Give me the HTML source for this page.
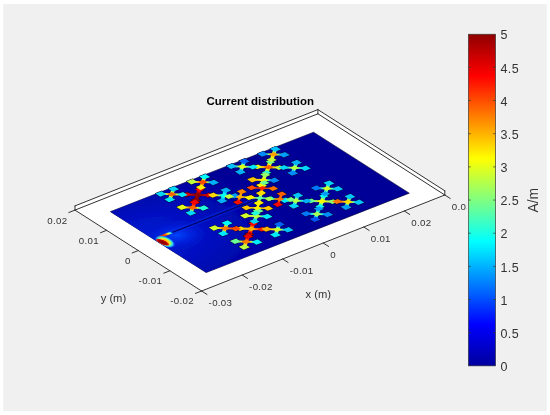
<!DOCTYPE html>
<html lang="en"><head><meta charset="utf-8"><title>Current distribution</title>
<style>html,body{margin:0;padding:0;background:#fff;overflow:hidden}svg{display:block}</style></head>
<body>
<svg width="550" height="415" viewBox="0 0 550 415">
<defs>
<linearGradient id="jet" x1="0" y1="0" x2="0" y2="1"><stop offset="0.0000" stop-color="#8f0000"/><stop offset="0.0312" stop-color="#ab0000"/><stop offset="0.0625" stop-color="#c70000"/><stop offset="0.0938" stop-color="#e30000"/><stop offset="0.1250" stop-color="#ff0000"/><stop offset="0.1562" stop-color="#ff2000"/><stop offset="0.1875" stop-color="#ff4000"/><stop offset="0.2188" stop-color="#ff6000"/><stop offset="0.2500" stop-color="#ff8000"/><stop offset="0.2812" stop-color="#ff9f00"/><stop offset="0.3125" stop-color="#ffbf00"/><stop offset="0.3438" stop-color="#ffdf00"/><stop offset="0.3750" stop-color="#ffff00"/><stop offset="0.4062" stop-color="#dfff20"/><stop offset="0.4375" stop-color="#bfff40"/><stop offset="0.4688" stop-color="#9fff60"/><stop offset="0.5000" stop-color="#80ff80"/><stop offset="0.5312" stop-color="#60ff9f"/><stop offset="0.5625" stop-color="#40ffbf"/><stop offset="0.5938" stop-color="#20ffdf"/><stop offset="0.6250" stop-color="#00ffff"/><stop offset="0.6562" stop-color="#00dfff"/><stop offset="0.6875" stop-color="#00bfff"/><stop offset="0.7188" stop-color="#009fff"/><stop offset="0.7500" stop-color="#0080ff"/><stop offset="0.7812" stop-color="#0060ff"/><stop offset="0.8125" stop-color="#0040ff"/><stop offset="0.8438" stop-color="#0020ff"/><stop offset="0.8750" stop-color="#0000ff"/><stop offset="0.9062" stop-color="#0000e7"/><stop offset="0.9375" stop-color="#0000cf"/><stop offset="0.9688" stop-color="#0000b6"/><stop offset="1.0000" stop-color="#00009e"/></linearGradient>
<radialGradient id="hot" cx="0.5" cy="0.5" r="0.5"><stop offset="0" stop-color="#7f0000"/><stop offset="0.25" stop-color="#e00000"/><stop offset="0.4" stop-color="#ff7a00"/><stop offset="0.5" stop-color="#c8ff30"/><stop offset="0.6" stop-color="#20d0ff"/><stop offset="0.75" stop-color="#0050ff" stop-opacity="0.8"/><stop offset="1" stop-color="#0020d0" stop-opacity="0"/></radialGradient>
<radialGradient id="glow" cx="0.5" cy="0.5" r="0.5"><stop offset="0" stop-color="#0048ff" stop-opacity="0.9"/><stop offset="0.5" stop-color="#0020e0" stop-opacity="0.5"/><stop offset="1" stop-color="#0000b0" stop-opacity="0"/></radialGradient>
<radialGradient id="glow2" cx="0.5" cy="0.5" r="0.5"><stop offset="0" stop-color="#0028e8" stop-opacity="0.8"/><stop offset="0.4" stop-color="#0414d0" stop-opacity="0.7"/><stop offset="0.75" stop-color="#0408b8" stop-opacity="0.45"/><stop offset="1" stop-color="#0400a0" stop-opacity="0"/></radialGradient>
<linearGradient id="feedg" x1="0" y1="0" x2="1" y2="0"><stop offset="0" stop-color="#c00000"/><stop offset="0.5" stop-color="#ff5000"/><stop offset="0.7" stop-color="#f0ff20"/><stop offset="0.85" stop-color="#30e0ff"/><stop offset="1" stop-color="#0060ff" stop-opacity="0"/></linearGradient>
<radialGradient id="halo" cx="0.5" cy="0.5" r="0.5"><stop offset="0" stop-color="#ff9000"/><stop offset="0.45" stop-color="#ffe020"/><stop offset="0.62" stop-color="#60ffa0"/><stop offset="0.78" stop-color="#20c0ff" stop-opacity="0.9"/><stop offset="1" stop-color="#0050ff" stop-opacity="0"/></radialGradient>
<radialGradient id="core" cx="0.5" cy="0.5" r="0.5"><stop offset="0" stop-color="#7f0000"/><stop offset="0.6" stop-color="#a80000"/><stop offset="0.85" stop-color="#e01000"/><stop offset="1" stop-color="#ff4000" stop-opacity="0.6"/></radialGradient>
<filter id="bl" x="-5%" y="-5%" width="110%" height="110%"><feGaussianBlur stdDeviation="0.65"/></filter>
<clipPath id="patch"><polygon points="206.16,272.61 409.31,193.16 313.55,132.20 110.40,211.65"/></clipPath>
</defs>
<rect x="0" y="0" width="550" height="415" fill="#fff"/>
<rect x="3.2" y="4" width="543.6" height="407.2" fill="#f0f0f0"/>
<polygon points="75.00,210.10 75.00,205.90 317.90,109.60 444.80,190.80 444.80,195.00 201.60,291.00" fill="#fff"/>
<g stroke-linecap="round">
<line x1="75.00" y1="210.10" x2="317.90" y2="113.80" stroke="#333" stroke-width="1.00"/>
<line x1="317.90" y1="113.80" x2="444.80" y2="195.00" stroke="#333" stroke-width="1.00"/>
<line x1="444.80" y1="195.00" x2="201.60" y2="291.00" stroke="#333" stroke-width="1.00"/>
<line x1="201.60" y1="291.00" x2="75.00" y2="210.10" stroke="#333" stroke-width="1.00"/>
<line x1="75.00" y1="205.90" x2="317.90" y2="109.60" stroke="#333" stroke-width="1.00"/>
<line x1="317.90" y1="109.60" x2="444.80" y2="190.80" stroke="#333" stroke-width="1.00"/>
<line x1="75.00" y1="210.10" x2="75.00" y2="205.90" stroke="#333" stroke-width="1.00"/>
<line x1="317.90" y1="113.80" x2="317.90" y2="109.60" stroke="#333" stroke-width="1.00"/>
<line x1="444.80" y1="195.00" x2="444.80" y2="190.80" stroke="#333" stroke-width="1.00"/>
<line x1="75.00" y1="210.10" x2="68.85" y2="212.50" stroke="#333" stroke-width="1.00"/>
<line x1="106.65" y1="230.32" x2="100.50" y2="232.73" stroke="#333" stroke-width="1.00"/>
<line x1="138.30" y1="250.55" x2="132.15" y2="252.95" stroke="#333" stroke-width="1.00"/>
<line x1="169.95" y1="270.77" x2="163.80" y2="273.18" stroke="#333" stroke-width="1.00"/>
<line x1="201.60" y1="291.00" x2="195.45" y2="293.40" stroke="#333" stroke-width="1.00"/>
<line x1="201.60" y1="291.00" x2="207.00" y2="294.44" stroke="#333" stroke-width="1.00"/>
<line x1="242.13" y1="275.00" x2="247.53" y2="278.44" stroke="#333" stroke-width="1.00"/>
<line x1="282.67" y1="259.00" x2="288.07" y2="262.44" stroke="#333" stroke-width="1.00"/>
<line x1="323.20" y1="243.00" x2="328.60" y2="246.44" stroke="#333" stroke-width="1.00"/>
<line x1="363.73" y1="227.00" x2="369.13" y2="230.44" stroke="#333" stroke-width="1.00"/>
<line x1="404.27" y1="211.00" x2="409.67" y2="214.44" stroke="#333" stroke-width="1.00"/>
<line x1="444.80" y1="195.00" x2="450.20" y2="198.44" stroke="#333" stroke-width="1.00"/>
</g>
<g font-family="'Liberation Sans', Arial, sans-serif" font-size="9.7" letter-spacing="0.32" fill="#333">
<text x="67.4" y="223.5" text-anchor="end">0.02</text>
<text x="99.0" y="243.7" text-anchor="end">0.01</text>
<text x="130.7" y="264.0" text-anchor="end">0</text>
<text x="162.3" y="284.2" text-anchor="end">-0.01</text>
<text x="194.0" y="304.4" text-anchor="end">-0.02</text>
<text x="208.6" y="306.1">-0.03</text>
<text x="249.1" y="290.1">-0.02</text>
<text x="289.7" y="274.1">-0.01</text>
<text x="330.2" y="258.1">0</text>
<text x="370.7" y="242.1">0.01</text>
<text x="411.3" y="226.1">0.02</text>
<text x="451.8" y="210.1">0.03</text>
</g>
<g font-family="'Liberation Sans', Arial, sans-serif" font-size="11.2" fill="#333">
<text x="100.7" y="302.1">y (m)</text>
<text x="305.6" y="297.5">x (m)</text>
</g>
<g filter="url(#bl)">
<polygon points="206.16,272.61 409.31,193.16 313.55,132.20 110.40,211.65" fill="#040096" stroke="#000030" stroke-width="0.6"/>
<g clip-path="url(#patch)">
<g transform="matrix(4.0630 -1.5890 -3.1920 -2.0320 259.850 198.050)">
<ellipse cx="-26" cy="0" rx="30" ry="26" fill="url(#glow2)"/>
<ellipse cx="-21.5" cy="-1.5" rx="8" ry="7" fill="url(#glow)"/>
<rect x="-25" y="-0.7" width="25" height="1.5" fill="#0030e8" opacity="0.45"/>
<rect x="-25" y="-0.2" width="25" height="0.36" fill="#000064"/>
<rect x="-25" y="-0.3" width="3.6" height="0.75" fill="url(#feedg)"/>
</g>
<ellipse cx="165" cy="241.6" rx="11" ry="5.4" transform="rotate(22 165 241.6)" fill="url(#halo)"/>
<ellipse cx="162.6" cy="242.3" rx="7.2" ry="2.4" transform="rotate(22 162.6 242.3)" fill="url(#core)"/>
</g>
<g transform="matrix(4.0630 -1.5890 -3.1920 -2.0320 259.850 198.050)" stroke="#000030" stroke-width="0.2" stroke-linejoin="round" fill="#000030">
<rect x="-7.79" y="9.12" width="1.30" height="1.30"/>
<rect x="-7.19" y="12.31" width="1.52" height="1.52"/>
<rect x="-4.07" y="12.31" width="1.52" height="1.52"/>
<rect x="-4.07" y="9.53" width="1.52" height="1.52"/>
<rect x="-7.13" y="9.58" width="1.41" height="1.41"/>
<rect x="-5.52" y="11.03" width="1.29" height="1.29"/>
<rect x="-10.91" y="9.12" width="1.30" height="1.30"/>
<rect x="-14.85" y="12.31" width="1.52" height="1.52"/>
<rect x="-11.73" y="12.31" width="1.52" height="1.52"/>
<rect x="-14.85" y="9.53" width="1.52" height="1.52"/>
<rect x="-11.67" y="9.58" width="1.41" height="1.41"/>
<rect x="-13.18" y="11.03" width="1.29" height="1.29"/>
<rect x="-10.91" y="6.34" width="1.30" height="1.30"/>
<rect x="-14.85" y="5.71" width="1.52" height="1.52"/>
<rect x="-11.73" y="2.93" width="1.52" height="1.52"/>
<rect x="-14.85" y="2.93" width="1.52" height="1.52"/>
<rect x="-11.67" y="5.77" width="1.41" height="1.41"/>
<rect x="-13.18" y="4.43" width="1.29" height="1.29"/>
<rect x="-7.79" y="6.34" width="1.30" height="1.30"/>
<rect x="-4.07" y="5.71" width="1.52" height="1.52"/>
<rect x="-7.19" y="2.93" width="1.52" height="1.52"/>
<rect x="-4.07" y="2.93" width="1.52" height="1.52"/>
<rect x="-7.13" y="5.77" width="1.41" height="1.41"/>
<rect x="-5.52" y="4.43" width="1.29" height="1.29"/>
<rect x="-9.35" y="7.73" width="1.30" height="1.30"/>
<rect x="9.61" y="9.12" width="1.30" height="1.30"/>
<rect x="10.21" y="12.31" width="1.52" height="1.52"/>
<rect x="13.33" y="12.31" width="1.52" height="1.52"/>
<rect x="13.33" y="9.53" width="1.52" height="1.52"/>
<rect x="10.26" y="9.58" width="1.41" height="1.41"/>
<rect x="11.88" y="11.03" width="1.29" height="1.29"/>
<rect x="6.49" y="9.12" width="1.30" height="1.30"/>
<rect x="5.67" y="12.31" width="1.52" height="1.52"/>
<rect x="2.55" y="12.31" width="1.52" height="1.52"/>
<rect x="2.55" y="9.53" width="1.52" height="1.52"/>
<rect x="5.72" y="9.58" width="1.41" height="1.41"/>
<rect x="4.22" y="11.03" width="1.29" height="1.29"/>
<rect x="9.61" y="6.34" width="1.30" height="1.30"/>
<rect x="13.33" y="5.71" width="1.52" height="1.52"/>
<rect x="10.21" y="2.93" width="1.52" height="1.52"/>
<rect x="10.26" y="5.77" width="1.41" height="1.41"/>
<rect x="13.33" y="2.93" width="1.52" height="1.52"/>
<rect x="11.88" y="4.43" width="1.29" height="1.29"/>
<rect x="6.49" y="6.34" width="1.30" height="1.30"/>
<rect x="2.55" y="5.71" width="1.52" height="1.52"/>
<rect x="5.67" y="2.93" width="1.52" height="1.52"/>
<rect x="5.72" y="5.77" width="1.41" height="1.41"/>
<rect x="2.55" y="2.93" width="1.52" height="1.52"/>
<rect x="4.22" y="4.43" width="1.29" height="1.29"/>
<rect x="8.05" y="7.73" width="1.30" height="1.30"/>
<rect x="9.61" y="-7.64" width="1.30" height="1.30"/>
<rect x="10.21" y="-4.45" width="1.52" height="1.52"/>
<rect x="13.33" y="-4.45" width="1.52" height="1.52"/>
<rect x="13.33" y="-7.23" width="1.52" height="1.52"/>
<rect x="10.26" y="-7.18" width="1.41" height="1.41"/>
<rect x="11.88" y="-5.73" width="1.29" height="1.29"/>
<rect x="6.49" y="-7.64" width="1.30" height="1.30"/>
<rect x="5.67" y="-4.45" width="1.52" height="1.52"/>
<rect x="2.55" y="-4.45" width="1.52" height="1.52"/>
<rect x="2.55" y="-7.23" width="1.52" height="1.52"/>
<rect x="5.72" y="-7.18" width="1.41" height="1.41"/>
<rect x="4.22" y="-5.73" width="1.29" height="1.29"/>
<rect x="6.49" y="-10.42" width="1.30" height="1.30"/>
<rect x="2.55" y="-11.05" width="1.52" height="1.52"/>
<rect x="5.67" y="-13.83" width="1.52" height="1.52"/>
<rect x="2.55" y="-13.83" width="1.52" height="1.52"/>
<rect x="5.72" y="-10.99" width="1.41" height="1.41"/>
<rect x="4.22" y="-12.33" width="1.29" height="1.29"/>
<rect x="9.61" y="-10.42" width="1.30" height="1.30"/>
<rect x="13.33" y="-11.05" width="1.52" height="1.52"/>
<rect x="10.21" y="-13.83" width="1.52" height="1.52"/>
<rect x="13.33" y="-13.83" width="1.52" height="1.52"/>
<rect x="10.26" y="-10.99" width="1.41" height="1.41"/>
<rect x="11.88" y="-12.33" width="1.29" height="1.29"/>
<rect x="8.05" y="-9.03" width="1.30" height="1.30"/>
<rect x="-7.79" y="-7.64" width="1.30" height="1.30"/>
<rect x="-7.19" y="-4.45" width="1.52" height="1.52"/>
<rect x="-4.07" y="-7.23" width="1.52" height="1.52"/>
<rect x="-7.13" y="-7.18" width="1.41" height="1.41"/>
<rect x="-4.07" y="-4.45" width="1.52" height="1.52"/>
<rect x="-5.52" y="-5.73" width="1.29" height="1.29"/>
<rect x="-10.91" y="-7.64" width="1.30" height="1.30"/>
<rect x="-11.73" y="-4.45" width="1.52" height="1.52"/>
<rect x="-14.85" y="-4.45" width="1.52" height="1.52"/>
<rect x="-14.85" y="-7.23" width="1.52" height="1.52"/>
<rect x="-11.67" y="-7.18" width="1.41" height="1.41"/>
<rect x="-13.18" y="-5.73" width="1.29" height="1.29"/>
<rect x="-10.91" y="-10.42" width="1.30" height="1.30"/>
<rect x="-14.85" y="-11.05" width="1.52" height="1.52"/>
<rect x="-11.73" y="-13.83" width="1.52" height="1.52"/>
<rect x="-14.85" y="-13.83" width="1.52" height="1.52"/>
<rect x="-11.67" y="-10.99" width="1.41" height="1.41"/>
<rect x="-13.18" y="-12.33" width="1.29" height="1.29"/>
<rect x="-7.79" y="-10.42" width="1.30" height="1.30"/>
<rect x="-4.07" y="-11.05" width="1.52" height="1.52"/>
<rect x="-7.19" y="-13.83" width="1.52" height="1.52"/>
<rect x="-4.07" y="-13.83" width="1.52" height="1.52"/>
<rect x="-7.13" y="-10.99" width="1.41" height="1.41"/>
<rect x="-5.52" y="-12.33" width="1.29" height="1.29"/>
<rect x="-9.35" y="-9.03" width="1.30" height="1.30"/>
<rect x="-2.16" y="0.79" width="1.20" height="1.20"/>
<rect x="-1.90" y="3.43" width="1.38" height="1.38"/>
<rect x="-5.02" y="0.65" width="1.38" height="1.38"/>
<rect x="-5.02" y="3.43" width="1.38" height="1.38"/>
<rect x="-1.85" y="0.70" width="1.29" height="1.29"/>
<rect x="-3.36" y="2.14" width="1.17" height="1.17"/>
<rect x="0.96" y="0.79" width="1.20" height="1.20"/>
<rect x="0.52" y="3.43" width="1.38" height="1.38"/>
<rect x="3.64" y="0.65" width="1.38" height="1.38"/>
<rect x="3.64" y="3.43" width="1.38" height="1.38"/>
<rect x="0.56" y="0.70" width="1.29" height="1.29"/>
<rect x="2.18" y="2.14" width="1.17" height="1.17"/>
<rect x="0.96" y="-1.99" width="1.20" height="1.20"/>
<rect x="3.64" y="-2.03" width="1.38" height="1.38"/>
<rect x="0.52" y="-4.81" width="1.38" height="1.38"/>
<rect x="3.64" y="-4.81" width="1.38" height="1.38"/>
<rect x="0.56" y="-1.99" width="1.29" height="1.29"/>
<rect x="2.18" y="-3.32" width="1.17" height="1.17"/>
<rect x="-2.16" y="-1.99" width="1.20" height="1.20"/>
<rect x="-5.02" y="-2.03" width="1.38" height="1.38"/>
<rect x="-1.90" y="-4.81" width="1.38" height="1.38"/>
<rect x="-5.02" y="-4.81" width="1.38" height="1.38"/>
<rect x="-1.85" y="-1.99" width="1.29" height="1.29"/>
<rect x="-3.36" y="-3.32" width="1.17" height="1.17"/>
<rect x="-0.60" y="-0.60" width="1.20" height="1.20"/>
</g>
<g transform="matrix(4.0630 -1.5890 -3.1920 -2.0320 259.850 198.050)">
<line x1="-8.70" y1="8.38" x2="-7.14" y2="9.77" stroke="#c50000" stroke-width="0.80"/>
<line x1="-7.14" y1="9.77" x2="-6.43" y2="10.29" stroke="#ff7500" stroke-width="0.88"/>
<line x1="-4.87" y1="11.68" x2="-6.43" y2="13.07" stroke="#ffc700" stroke-width="0.72"/>
<line x1="-4.87" y1="11.68" x2="-3.31" y2="13.07" stroke="#e5ff1a" stroke-width="0.72"/>
<line x1="-4.87" y1="11.68" x2="-3.31" y2="10.29" stroke="#bdff42" stroke-width="0.72"/>
<line x1="-4.87" y1="11.68" x2="-6.43" y2="10.29" stroke="#ff9e00" stroke-width="0.72"/>
<line x1="-8.70" y1="8.38" x2="-10.26" y2="9.77" stroke="#b30000" stroke-width="0.80"/>
<line x1="-10.26" y1="9.77" x2="-10.97" y2="10.29" stroke="#ffe500" stroke-width="0.88"/>
<line x1="-12.53" y1="11.68" x2="-14.09" y2="13.07" stroke="#c7ff38" stroke-width="0.72"/>
<line x1="-12.53" y1="11.68" x2="-10.97" y2="13.07" stroke="#c7ff38" stroke-width="0.72"/>
<line x1="-12.53" y1="11.68" x2="-14.09" y2="10.29" stroke="#d1ff2e" stroke-width="0.72"/>
<line x1="-12.53" y1="11.68" x2="-10.97" y2="10.29" stroke="#d1ff2e" stroke-width="0.72"/>
<line x1="-8.70" y1="8.38" x2="-10.26" y2="6.99" stroke="#8f0000" stroke-width="0.80"/>
<line x1="-10.26" y1="6.99" x2="-10.97" y2="6.47" stroke="#c50000" stroke-width="0.88"/>
<line x1="-12.53" y1="5.08" x2="-14.09" y2="6.47" stroke="#ffbd00" stroke-width="0.72"/>
<line x1="-12.53" y1="5.08" x2="-10.97" y2="3.69" stroke="#f0ff0f" stroke-width="0.72"/>
<line x1="-12.53" y1="5.08" x2="-14.09" y2="3.69" stroke="#c7ff38" stroke-width="0.72"/>
<line x1="-12.53" y1="5.08" x2="-10.97" y2="6.47" stroke="#ff2e00" stroke-width="0.72"/>
<line x1="-8.70" y1="8.38" x2="-7.14" y2="6.99" stroke="#b30000" stroke-width="0.80"/>
<line x1="-7.14" y1="6.99" x2="-6.43" y2="6.47" stroke="#ff5700" stroke-width="0.88"/>
<line x1="-4.87" y1="5.08" x2="-3.31" y2="6.47" stroke="#00f0ff" stroke-width="0.72"/>
<line x1="-4.87" y1="5.08" x2="-6.43" y2="3.69" stroke="#00f0ff" stroke-width="0.72"/>
<line x1="-4.87" y1="5.08" x2="-3.31" y2="3.69" stroke="#00e5ff" stroke-width="0.72"/>
<line x1="-4.87" y1="5.08" x2="-6.43" y2="6.47" stroke="#9eff61" stroke-width="0.72"/>
<line x1="8.70" y1="8.38" x2="10.26" y2="9.77" stroke="#fffa00" stroke-width="0.80"/>
<line x1="10.26" y1="9.77" x2="10.97" y2="10.29" stroke="#94ff6b" stroke-width="0.88"/>
<line x1="12.53" y1="11.68" x2="10.97" y2="13.07" stroke="#80ff80" stroke-width="0.72"/>
<line x1="12.53" y1="11.68" x2="14.09" y2="13.07" stroke="#9eff61" stroke-width="0.72"/>
<line x1="12.53" y1="11.68" x2="14.09" y2="10.29" stroke="#8aff75" stroke-width="0.72"/>
<line x1="12.53" y1="11.68" x2="10.97" y2="10.29" stroke="#fff000" stroke-width="0.72"/>
<line x1="8.70" y1="8.38" x2="7.14" y2="9.77" stroke="#ffbd00" stroke-width="0.80"/>
<line x1="7.14" y1="9.77" x2="6.43" y2="10.29" stroke="#75ff8a" stroke-width="0.88"/>
<line x1="4.87" y1="11.68" x2="6.43" y2="13.07" stroke="#2effd1" stroke-width="0.72"/>
<line x1="4.87" y1="11.68" x2="3.31" y2="13.07" stroke="#61ff9e" stroke-width="0.72"/>
<line x1="4.87" y1="11.68" x2="3.31" y2="10.29" stroke="#57ffa8" stroke-width="0.72"/>
<line x1="4.87" y1="11.68" x2="6.43" y2="10.29" stroke="#75ff8a" stroke-width="0.72"/>
<line x1="8.70" y1="8.38" x2="10.26" y2="6.99" stroke="#ffd100" stroke-width="0.80"/>
<line x1="10.26" y1="6.99" x2="10.97" y2="6.47" stroke="#57ffa8" stroke-width="0.88"/>
<line x1="12.53" y1="5.08" x2="14.09" y2="6.47" stroke="#42ffbd" stroke-width="0.72"/>
<line x1="12.53" y1="5.08" x2="10.97" y2="3.69" stroke="#2effd1" stroke-width="0.72"/>
<line x1="12.53" y1="5.08" x2="10.97" y2="6.47" stroke="#57ffa8" stroke-width="0.72"/>
<line x1="12.53" y1="5.08" x2="14.09" y2="3.69" stroke="#57ffa8" stroke-width="0.72"/>
<line x1="8.70" y1="8.38" x2="7.14" y2="6.99" stroke="#f0ff0f" stroke-width="0.80"/>
<line x1="7.14" y1="6.99" x2="6.43" y2="6.47" stroke="#6bff94" stroke-width="0.88"/>
<line x1="4.87" y1="5.08" x2="3.31" y2="6.47" stroke="#ffdb00" stroke-width="0.72"/>
<line x1="4.87" y1="5.08" x2="6.43" y2="3.69" stroke="#57ffa8" stroke-width="0.72"/>
<line x1="4.87" y1="5.08" x2="6.43" y2="6.47" stroke="#d1ff2e" stroke-width="0.72"/>
<line x1="4.87" y1="5.08" x2="3.31" y2="3.69" stroke="#fff000" stroke-width="0.72"/>
<line x1="8.70" y1="-8.38" x2="10.26" y2="-6.99" stroke="#8aff75" stroke-width="0.80"/>
<line x1="10.26" y1="-6.99" x2="10.97" y2="-6.47" stroke="#00e5ff" stroke-width="0.88"/>
<line x1="12.53" y1="-5.08" x2="10.97" y2="-3.69" stroke="#2effd1" stroke-width="0.72"/>
<line x1="12.53" y1="-5.08" x2="14.09" y2="-3.69" stroke="#61ff9e" stroke-width="0.72"/>
<line x1="12.53" y1="-5.08" x2="14.09" y2="-6.47" stroke="#57ffa8" stroke-width="0.72"/>
<line x1="12.53" y1="-5.08" x2="10.97" y2="-6.47" stroke="#42ffbd" stroke-width="0.72"/>
<line x1="8.70" y1="-8.38" x2="7.14" y2="-6.99" stroke="#b3ff4c" stroke-width="0.80"/>
<line x1="7.14" y1="-6.99" x2="6.43" y2="-6.47" stroke="#1affe5" stroke-width="0.88"/>
<line x1="4.87" y1="-5.08" x2="6.43" y2="-3.69" stroke="#4dffb3" stroke-width="0.72"/>
<line x1="4.87" y1="-5.08" x2="3.31" y2="-3.69" stroke="#61ff9e" stroke-width="0.72"/>
<line x1="4.87" y1="-5.08" x2="3.31" y2="-6.47" stroke="#57ffa8" stroke-width="0.72"/>
<line x1="4.87" y1="-5.08" x2="6.43" y2="-6.47" stroke="#42ffbd" stroke-width="0.72"/>
<line x1="8.70" y1="-8.38" x2="7.14" y2="-9.77" stroke="#8aff75" stroke-width="0.80"/>
<line x1="7.14" y1="-9.77" x2="6.43" y2="-10.29" stroke="#00e5ff" stroke-width="0.88"/>
<line x1="4.87" y1="-11.68" x2="3.31" y2="-10.29" stroke="#1affe5" stroke-width="0.72"/>
<line x1="4.87" y1="-11.68" x2="6.43" y2="-13.07" stroke="#24ffdb" stroke-width="0.72"/>
<line x1="4.87" y1="-11.68" x2="3.31" y2="-13.07" stroke="#05fffa" stroke-width="0.72"/>
<line x1="4.87" y1="-11.68" x2="6.43" y2="-10.29" stroke="#2effd1" stroke-width="0.72"/>
<line x1="8.70" y1="-8.38" x2="10.26" y2="-9.77" stroke="#c7ff38" stroke-width="0.80"/>
<line x1="10.26" y1="-9.77" x2="10.97" y2="-10.29" stroke="#fff000" stroke-width="0.88"/>
<line x1="12.53" y1="-11.68" x2="14.09" y2="-10.29" stroke="#80ff80" stroke-width="0.72"/>
<line x1="12.53" y1="-11.68" x2="10.97" y2="-13.07" stroke="#6bff94" stroke-width="0.72"/>
<line x1="12.53" y1="-11.68" x2="14.09" y2="-13.07" stroke="#80ff80" stroke-width="0.72"/>
<line x1="12.53" y1="-11.68" x2="10.97" y2="-10.29" stroke="#ffa800" stroke-width="0.72"/>
<line x1="-8.70" y1="-8.38" x2="-7.14" y2="-6.99" stroke="#ff5700" stroke-width="0.80"/>
<line x1="-7.14" y1="-6.99" x2="-6.43" y2="-6.47" stroke="#faff05" stroke-width="0.88"/>
<line x1="-4.87" y1="-5.08" x2="-6.43" y2="-3.69" stroke="#c7ff38" stroke-width="0.72"/>
<line x1="-4.87" y1="-5.08" x2="-3.31" y2="-6.47" stroke="#61ff9e" stroke-width="0.72"/>
<line x1="-4.87" y1="-5.08" x2="-6.43" y2="-6.47" stroke="#57ffa8" stroke-width="0.72"/>
<line x1="-4.87" y1="-5.08" x2="-3.31" y2="-3.69" stroke="#94ff6b" stroke-width="0.72"/>
<line x1="-8.70" y1="-8.38" x2="-10.26" y2="-6.99" stroke="#ffc700" stroke-width="0.80"/>
<line x1="-10.26" y1="-6.99" x2="-10.97" y2="-6.47" stroke="#ff9400" stroke-width="0.88"/>
<line x1="-12.53" y1="-5.08" x2="-10.97" y2="-3.69" stroke="#d1ff2e" stroke-width="0.72"/>
<line x1="-12.53" y1="-5.08" x2="-14.09" y2="-3.69" stroke="#ffd100" stroke-width="0.72"/>
<line x1="-12.53" y1="-5.08" x2="-14.09" y2="-6.47" stroke="#c7ff38" stroke-width="0.72"/>
<line x1="-12.53" y1="-5.08" x2="-10.97" y2="-6.47" stroke="#ff6100" stroke-width="0.72"/>
<line x1="-8.70" y1="-8.38" x2="-10.26" y2="-9.77" stroke="#ff2e00" stroke-width="0.80"/>
<line x1="-10.26" y1="-9.77" x2="-10.97" y2="-10.29" stroke="#ce0000" stroke-width="0.88"/>
<line x1="-12.53" y1="-11.68" x2="-14.09" y2="-10.29" stroke="#faff05" stroke-width="0.72"/>
<line x1="-12.53" y1="-11.68" x2="-10.97" y2="-13.07" stroke="#c7ff38" stroke-width="0.72"/>
<line x1="-12.53" y1="-11.68" x2="-14.09" y2="-13.07" stroke="#ffdb00" stroke-width="0.72"/>
<line x1="-12.53" y1="-11.68" x2="-10.97" y2="-10.29" stroke="#ff2e00" stroke-width="0.72"/>
<line x1="-8.70" y1="-8.38" x2="-7.14" y2="-9.77" stroke="#ff6b00" stroke-width="0.80"/>
<line x1="-7.14" y1="-9.77" x2="-6.43" y2="-10.29" stroke="#ff6b00" stroke-width="0.88"/>
<line x1="-4.87" y1="-11.68" x2="-3.31" y2="-10.29" stroke="#24ffdb" stroke-width="0.72"/>
<line x1="-4.87" y1="-11.68" x2="-6.43" y2="-13.07" stroke="#6bff94" stroke-width="0.72"/>
<line x1="-4.87" y1="-11.68" x2="-3.31" y2="-13.07" stroke="#57ffa8" stroke-width="0.72"/>
<line x1="-4.87" y1="-11.68" x2="-6.43" y2="-10.29" stroke="#fff000" stroke-width="0.72"/>
<line x1="0.00" y1="0.00" x2="-1.56" y2="1.39" stroke="#a8ff57" stroke-width="0.56"/>
<line x1="-1.56" y1="1.39" x2="-1.21" y2="1.34" stroke="#fffa00" stroke-width="0.62"/>
<line x1="-2.77" y1="2.73" x2="-1.21" y2="4.12" stroke="#ff9e00" stroke-width="0.50"/>
<line x1="-2.77" y1="2.73" x2="-4.33" y2="1.34" stroke="#ff6100" stroke-width="0.50"/>
<line x1="-2.77" y1="2.73" x2="-4.33" y2="4.12" stroke="#fffa00" stroke-width="0.50"/>
<line x1="-2.77" y1="2.73" x2="-1.21" y2="1.34" stroke="#ffd100" stroke-width="0.50"/>
<line x1="0.00" y1="0.00" x2="1.56" y2="1.39" stroke="#b3ff4c" stroke-width="0.56"/>
<line x1="1.56" y1="1.39" x2="1.21" y2="1.34" stroke="#ffe500" stroke-width="0.62"/>
<line x1="2.77" y1="2.73" x2="1.21" y2="4.12" stroke="#ff3800" stroke-width="0.50"/>
<line x1="2.77" y1="2.73" x2="4.33" y2="1.34" stroke="#ff4c00" stroke-width="0.50"/>
<line x1="2.77" y1="2.73" x2="4.33" y2="4.12" stroke="#ffdb00" stroke-width="0.50"/>
<line x1="2.77" y1="2.73" x2="1.21" y2="1.34" stroke="#ff8000" stroke-width="0.50"/>
<line x1="0.00" y1="0.00" x2="1.56" y2="-1.39" stroke="#4dffb3" stroke-width="0.56"/>
<line x1="1.56" y1="-1.39" x2="1.21" y2="-1.34" stroke="#75ff8a" stroke-width="0.62"/>
<line x1="2.77" y1="-2.73" x2="4.33" y2="-1.34" stroke="#ff6b00" stroke-width="0.50"/>
<line x1="2.77" y1="-2.73" x2="1.21" y2="-4.12" stroke="#ff3800" stroke-width="0.50"/>
<line x1="2.77" y1="-2.73" x2="4.33" y2="-4.12" stroke="#fffa00" stroke-width="0.50"/>
<line x1="2.77" y1="-2.73" x2="1.21" y2="-1.34" stroke="#ffe500" stroke-width="0.50"/>
<line x1="0.00" y1="0.00" x2="-1.56" y2="-1.39" stroke="#a8ff57" stroke-width="0.56"/>
<line x1="-1.56" y1="-1.39" x2="-1.21" y2="-1.34" stroke="#fffa00" stroke-width="0.62"/>
<line x1="-2.77" y1="-2.73" x2="-4.33" y2="-1.34" stroke="#ffdb00" stroke-width="0.50"/>
<line x1="-2.77" y1="-2.73" x2="-1.21" y2="-4.12" stroke="#ffdb00" stroke-width="0.50"/>
<line x1="-2.77" y1="-2.73" x2="-4.33" y2="-4.12" stroke="#a8ff57" stroke-width="0.50"/>
<line x1="-2.77" y1="-2.73" x2="-1.21" y2="-1.34" stroke="#fff000" stroke-width="0.50"/>
<rect x="-7.79" y="9.12" width="1.30" height="1.30" fill="#fb0000"/>
<rect x="-7.19" y="12.31" width="1.52" height="1.52" fill="#bdff42"/>
<rect x="-4.07" y="12.31" width="1.52" height="1.52" fill="#00fcff"/>
<rect x="-4.07" y="9.53" width="1.52" height="1.52" fill="#00b0ff"/>
<rect x="-7.13" y="9.58" width="1.41" height="1.41" fill="#fff000"/>
<rect x="-5.52" y="11.03" width="1.29" height="1.29" fill="#ff4c00"/>
<rect x="-10.91" y="9.12" width="1.30" height="1.30" fill="#d70000"/>
<rect x="-14.85" y="12.31" width="1.52" height="1.52" fill="#00d6ff"/>
<rect x="-11.73" y="12.31" width="1.52" height="1.52" fill="#00d6ff"/>
<rect x="-14.85" y="9.53" width="1.52" height="1.52" fill="#00e9ff"/>
<rect x="-11.67" y="9.58" width="1.41" height="1.41" fill="#00e9ff"/>
<rect x="-13.18" y="11.03" width="1.29" height="1.29" fill="#ff6100"/>
<rect x="-10.91" y="6.34" width="1.30" height="1.30" fill="#8f0000"/>
<rect x="-14.85" y="5.71" width="1.52" height="1.52" fill="#e5ff1a"/>
<rect x="-11.73" y="2.93" width="1.52" height="1.52" fill="#23ffdc"/>
<rect x="-14.85" y="2.93" width="1.52" height="1.52" fill="#00d6ff"/>
<rect x="-11.67" y="5.77" width="1.41" height="1.41" fill="#fb0000"/>
<rect x="-13.18" y="4.43" width="1.29" height="1.29" fill="#ff6100"/>
<rect x="-7.79" y="6.34" width="1.30" height="1.30" fill="#d70000"/>
<rect x="-4.07" y="5.71" width="1.52" height="1.52" fill="#00b0ff"/>
<rect x="-7.19" y="2.93" width="1.52" height="1.52" fill="#00b0ff"/>
<rect x="-4.07" y="2.93" width="1.52" height="1.52" fill="#009dff"/>
<rect x="-7.13" y="5.77" width="1.41" height="1.41" fill="#ffdb00"/>
<rect x="-5.52" y="4.43" width="1.29" height="1.29" fill="#00fcff"/>
<rect x="-9.35" y="7.73" width="1.30" height="1.30" fill="#8f0000"/>
<rect x="9.61" y="9.12" width="1.30" height="1.30" fill="#6bff94"/>
<rect x="10.21" y="12.31" width="1.52" height="1.52" fill="#008aff"/>
<rect x="13.33" y="12.31" width="1.52" height="1.52" fill="#00c3ff"/>
<rect x="13.33" y="9.53" width="1.52" height="1.52" fill="#009dff"/>
<rect x="10.26" y="9.58" width="1.41" height="1.41" fill="#bdff42"/>
<rect x="11.88" y="11.03" width="1.29" height="1.29" fill="#ff9e00"/>
<rect x="6.49" y="9.12" width="1.30" height="1.30" fill="#e5ff1a"/>
<rect x="5.67" y="12.31" width="1.52" height="1.52" fill="#0064ff"/>
<rect x="2.55" y="12.31" width="1.52" height="1.52" fill="#00c3ff"/>
<rect x="2.55" y="9.53" width="1.52" height="1.52" fill="#00b0ff"/>
<rect x="5.72" y="9.58" width="1.41" height="1.41" fill="#00e9ff"/>
<rect x="4.22" y="11.03" width="1.29" height="1.29" fill="#e5ff1a"/>
<rect x="9.61" y="6.34" width="1.30" height="1.30" fill="#bdff42"/>
<rect x="13.33" y="5.71" width="1.52" height="1.52" fill="#00b0ff"/>
<rect x="10.21" y="2.93" width="1.52" height="1.52" fill="#008aff"/>
<rect x="10.26" y="5.77" width="1.41" height="1.41" fill="#00d6ff"/>
<rect x="13.33" y="2.93" width="1.52" height="1.52" fill="#00d6ff"/>
<rect x="11.88" y="4.43" width="1.29" height="1.29" fill="#bdff42"/>
<rect x="6.49" y="6.34" width="1.30" height="1.30" fill="#23ffdc"/>
<rect x="2.55" y="5.71" width="1.52" height="1.52" fill="#ffc700"/>
<rect x="5.67" y="2.93" width="1.52" height="1.52" fill="#008aff"/>
<rect x="5.72" y="5.77" width="1.41" height="1.41" fill="#94ff6b"/>
<rect x="2.55" y="2.93" width="1.52" height="1.52" fill="#fff000"/>
<rect x="4.22" y="4.43" width="1.29" height="1.29" fill="#fff000"/>
<rect x="8.05" y="7.73" width="1.30" height="1.30" fill="#ff6100"/>
<rect x="9.61" y="-7.64" width="1.30" height="1.30" fill="#00fcff"/>
<rect x="10.21" y="-4.45" width="1.52" height="1.52" fill="#0077ff"/>
<rect x="13.33" y="-4.45" width="1.52" height="1.52" fill="#00d6ff"/>
<rect x="13.33" y="-7.23" width="1.52" height="1.52" fill="#00c3ff"/>
<rect x="10.26" y="-7.18" width="1.41" height="1.41" fill="#009dff"/>
<rect x="11.88" y="-5.73" width="1.29" height="1.29" fill="#d1ff2e"/>
<rect x="6.49" y="-7.64" width="1.30" height="1.30" fill="#6bff94"/>
<rect x="5.67" y="-4.45" width="1.52" height="1.52" fill="#00c3ff"/>
<rect x="2.55" y="-4.45" width="1.52" height="1.52" fill="#00e9ff"/>
<rect x="2.55" y="-7.23" width="1.52" height="1.52" fill="#00d6ff"/>
<rect x="5.72" y="-7.18" width="1.41" height="1.41" fill="#00b0ff"/>
<rect x="4.22" y="-5.73" width="1.29" height="1.29" fill="#bdff42"/>
<rect x="6.49" y="-10.42" width="1.30" height="1.30" fill="#00fcff"/>
<rect x="2.55" y="-11.05" width="1.52" height="1.52" fill="#0077ff"/>
<rect x="5.67" y="-13.83" width="1.52" height="1.52" fill="#008aff"/>
<rect x="2.55" y="-13.83" width="1.52" height="1.52" fill="#0051ff"/>
<rect x="5.72" y="-10.99" width="1.41" height="1.41" fill="#009dff"/>
<rect x="4.22" y="-12.33" width="1.29" height="1.29" fill="#a8ff57"/>
<rect x="9.61" y="-10.42" width="1.30" height="1.30" fill="#94ff6b"/>
<rect x="13.33" y="-11.05" width="1.52" height="1.52" fill="#00c3ff"/>
<rect x="10.21" y="-13.83" width="1.52" height="1.52" fill="#009dff"/>
<rect x="13.33" y="-13.83" width="1.52" height="1.52" fill="#00c3ff"/>
<rect x="10.26" y="-10.99" width="1.41" height="1.41" fill="#ff7500"/>
<rect x="11.88" y="-12.33" width="1.29" height="1.29" fill="#ffdb00"/>
<rect x="8.05" y="-9.03" width="1.30" height="1.30" fill="#faff05"/>
<rect x="-7.79" y="-7.64" width="1.30" height="1.30" fill="#fb0000"/>
<rect x="-7.19" y="-4.45" width="1.52" height="1.52" fill="#d1ff2e"/>
<rect x="-4.07" y="-7.23" width="1.52" height="1.52" fill="#00e9ff"/>
<rect x="-7.13" y="-7.18" width="1.41" height="1.41" fill="#00d6ff"/>
<rect x="-4.07" y="-4.45" width="1.52" height="1.52" fill="#6bff94"/>
<rect x="-5.52" y="-5.73" width="1.29" height="1.29" fill="#bdff42"/>
<rect x="-10.91" y="-7.64" width="1.30" height="1.30" fill="#ffdb00"/>
<rect x="-11.73" y="-4.45" width="1.52" height="1.52" fill="#00fcff"/>
<rect x="-14.85" y="-4.45" width="1.52" height="1.52" fill="#d1ff2e"/>
<rect x="-14.85" y="-7.23" width="1.52" height="1.52" fill="#00e9ff"/>
<rect x="-11.67" y="-7.18" width="1.41" height="1.41" fill="#ff4c00"/>
<rect x="-13.18" y="-5.73" width="1.29" height="1.29" fill="#ff7500"/>
<rect x="-10.91" y="-10.42" width="1.30" height="1.30" fill="#b30000"/>
<rect x="-14.85" y="-11.05" width="1.52" height="1.52" fill="#6bff94"/>
<rect x="-11.73" y="-13.83" width="1.52" height="1.52" fill="#00e9ff"/>
<rect x="-14.85" y="-13.83" width="1.52" height="1.52" fill="#bdff42"/>
<rect x="-11.67" y="-10.99" width="1.41" height="1.41" fill="#e90000"/>
<rect x="-13.18" y="-12.33" width="1.29" height="1.29" fill="#ff7500"/>
<rect x="-7.79" y="-10.42" width="1.30" height="1.30" fill="#ff2400"/>
<rect x="-4.07" y="-11.05" width="1.52" height="1.52" fill="#0064ff"/>
<rect x="-7.19" y="-13.83" width="1.52" height="1.52" fill="#00e9ff"/>
<rect x="-4.07" y="-13.83" width="1.52" height="1.52" fill="#00c3ff"/>
<rect x="-7.13" y="-10.99" width="1.41" height="1.41" fill="#ffb300"/>
<rect x="-5.52" y="-12.33" width="1.29" height="1.29" fill="#d1ff2e"/>
<rect x="-9.35" y="-9.03" width="1.30" height="1.30" fill="#ffb300"/>
<rect x="-2.16" y="0.79" width="1.20" height="1.20" fill="#faff05"/>
<rect x="-1.90" y="3.43" width="1.38" height="1.38" fill="#ff8a00"/>
<rect x="-5.02" y="0.65" width="1.38" height="1.38" fill="#ff0f00"/>
<rect x="-5.02" y="3.43" width="1.38" height="1.38" fill="#bdff42"/>
<rect x="-1.85" y="0.70" width="1.29" height="1.29" fill="#fff000"/>
<rect x="-3.36" y="2.14" width="1.17" height="1.17" fill="#ffb300"/>
<rect x="0.96" y="0.79" width="1.20" height="1.20" fill="#fff000"/>
<rect x="0.52" y="3.43" width="1.38" height="1.38" fill="#ff4c00"/>
<rect x="3.64" y="0.65" width="1.38" height="1.38" fill="#ff7500"/>
<rect x="3.64" y="3.43" width="1.38" height="1.38" fill="#6bff94"/>
<rect x="0.56" y="0.70" width="1.29" height="1.29" fill="#ffdb00"/>
<rect x="2.18" y="2.14" width="1.17" height="1.17" fill="#ff2400"/>
<rect x="0.96" y="-1.99" width="1.20" height="1.20" fill="#23ffdc"/>
<rect x="3.64" y="-2.03" width="1.38" height="1.38" fill="#ff6100"/>
<rect x="0.52" y="-4.81" width="1.38" height="1.38" fill="#fb0000"/>
<rect x="3.64" y="-4.81" width="1.38" height="1.38" fill="#80ff80"/>
<rect x="0.56" y="-1.99" width="1.29" height="1.29" fill="#a8ff57"/>
<rect x="2.18" y="-3.32" width="1.17" height="1.17" fill="#ff7500"/>
<rect x="-2.16" y="-1.99" width="1.20" height="1.20" fill="#faff05"/>
<rect x="-5.02" y="-2.03" width="1.38" height="1.38" fill="#ffc700"/>
<rect x="-1.90" y="-4.81" width="1.38" height="1.38" fill="#ffc700"/>
<rect x="-5.02" y="-4.81" width="1.38" height="1.38" fill="#23ffdc"/>
<rect x="-1.85" y="-1.99" width="1.29" height="1.29" fill="#fff000"/>
<rect x="-3.36" y="-3.32" width="1.17" height="1.17" fill="#fff000"/>
<rect x="-0.60" y="-0.60" width="1.20" height="1.20" fill="#57ffa8"/>
</g>
</g>
<text x="260.3" y="104.8" text-anchor="middle" font-family="'Liberation Sans', Arial, sans-serif" font-weight="bold" font-size="11.45" fill="#000">Current distribution</text>
<rect x="466.9" y="33.0" width="29.9" height="334.1" fill="#f9f9f9"/>
<rect x="468.3" y="34.2" width="27.3" height="331.7" fill="url(#jet)" stroke="#3a3a3a" stroke-width="0.7"/>
<g font-family="'Liberation Sans', Arial, sans-serif" font-size="12.5" letter-spacing="0.5" fill="#333">
<text x="500.4" y="39.3">5</text>
<line x1="493.10" y1="67.37" x2="495.60" y2="67.37" stroke="#3a3a3a" stroke-width="0.70"/>
<line x1="468.30" y1="67.37" x2="470.80" y2="67.37" stroke="#3a3a3a" stroke-width="0.70"/>
<text x="500.4" y="72.5">4.5</text>
<line x1="493.10" y1="100.54" x2="495.60" y2="100.54" stroke="#3a3a3a" stroke-width="0.70"/>
<line x1="468.30" y1="100.54" x2="470.80" y2="100.54" stroke="#3a3a3a" stroke-width="0.70"/>
<text x="500.4" y="105.6">4</text>
<line x1="493.10" y1="133.71" x2="495.60" y2="133.71" stroke="#3a3a3a" stroke-width="0.70"/>
<line x1="468.30" y1="133.71" x2="470.80" y2="133.71" stroke="#3a3a3a" stroke-width="0.70"/>
<text x="500.4" y="138.8">3.5</text>
<line x1="493.10" y1="166.88" x2="495.60" y2="166.88" stroke="#3a3a3a" stroke-width="0.70"/>
<line x1="468.30" y1="166.88" x2="470.80" y2="166.88" stroke="#3a3a3a" stroke-width="0.70"/>
<text x="500.4" y="172.0">3</text>
<line x1="493.10" y1="200.05" x2="495.60" y2="200.05" stroke="#3a3a3a" stroke-width="0.70"/>
<line x1="468.30" y1="200.05" x2="470.80" y2="200.05" stroke="#3a3a3a" stroke-width="0.70"/>
<text x="500.4" y="205.2">2.5</text>
<line x1="493.10" y1="233.22" x2="495.60" y2="233.22" stroke="#3a3a3a" stroke-width="0.70"/>
<line x1="468.30" y1="233.22" x2="470.80" y2="233.22" stroke="#3a3a3a" stroke-width="0.70"/>
<text x="500.4" y="238.3">2</text>
<line x1="493.10" y1="266.39" x2="495.60" y2="266.39" stroke="#3a3a3a" stroke-width="0.70"/>
<line x1="468.30" y1="266.39" x2="470.80" y2="266.39" stroke="#3a3a3a" stroke-width="0.70"/>
<text x="500.4" y="271.5">1.5</text>
<line x1="493.10" y1="299.56" x2="495.60" y2="299.56" stroke="#3a3a3a" stroke-width="0.70"/>
<line x1="468.30" y1="299.56" x2="470.80" y2="299.56" stroke="#3a3a3a" stroke-width="0.70"/>
<text x="500.4" y="304.7">1</text>
<line x1="493.10" y1="332.73" x2="495.60" y2="332.73" stroke="#3a3a3a" stroke-width="0.70"/>
<line x1="468.30" y1="332.73" x2="470.80" y2="332.73" stroke="#3a3a3a" stroke-width="0.70"/>
<text x="500.4" y="337.8">0.5</text>
<text x="500.4" y="371.0">0</text>
</g>
<text transform="translate(538.3 200.3) rotate(-90)" text-anchor="middle" font-family="'Liberation Sans', Arial, sans-serif" font-size="13.8" fill="#333">A/m</text>
</svg>
</body></html>
